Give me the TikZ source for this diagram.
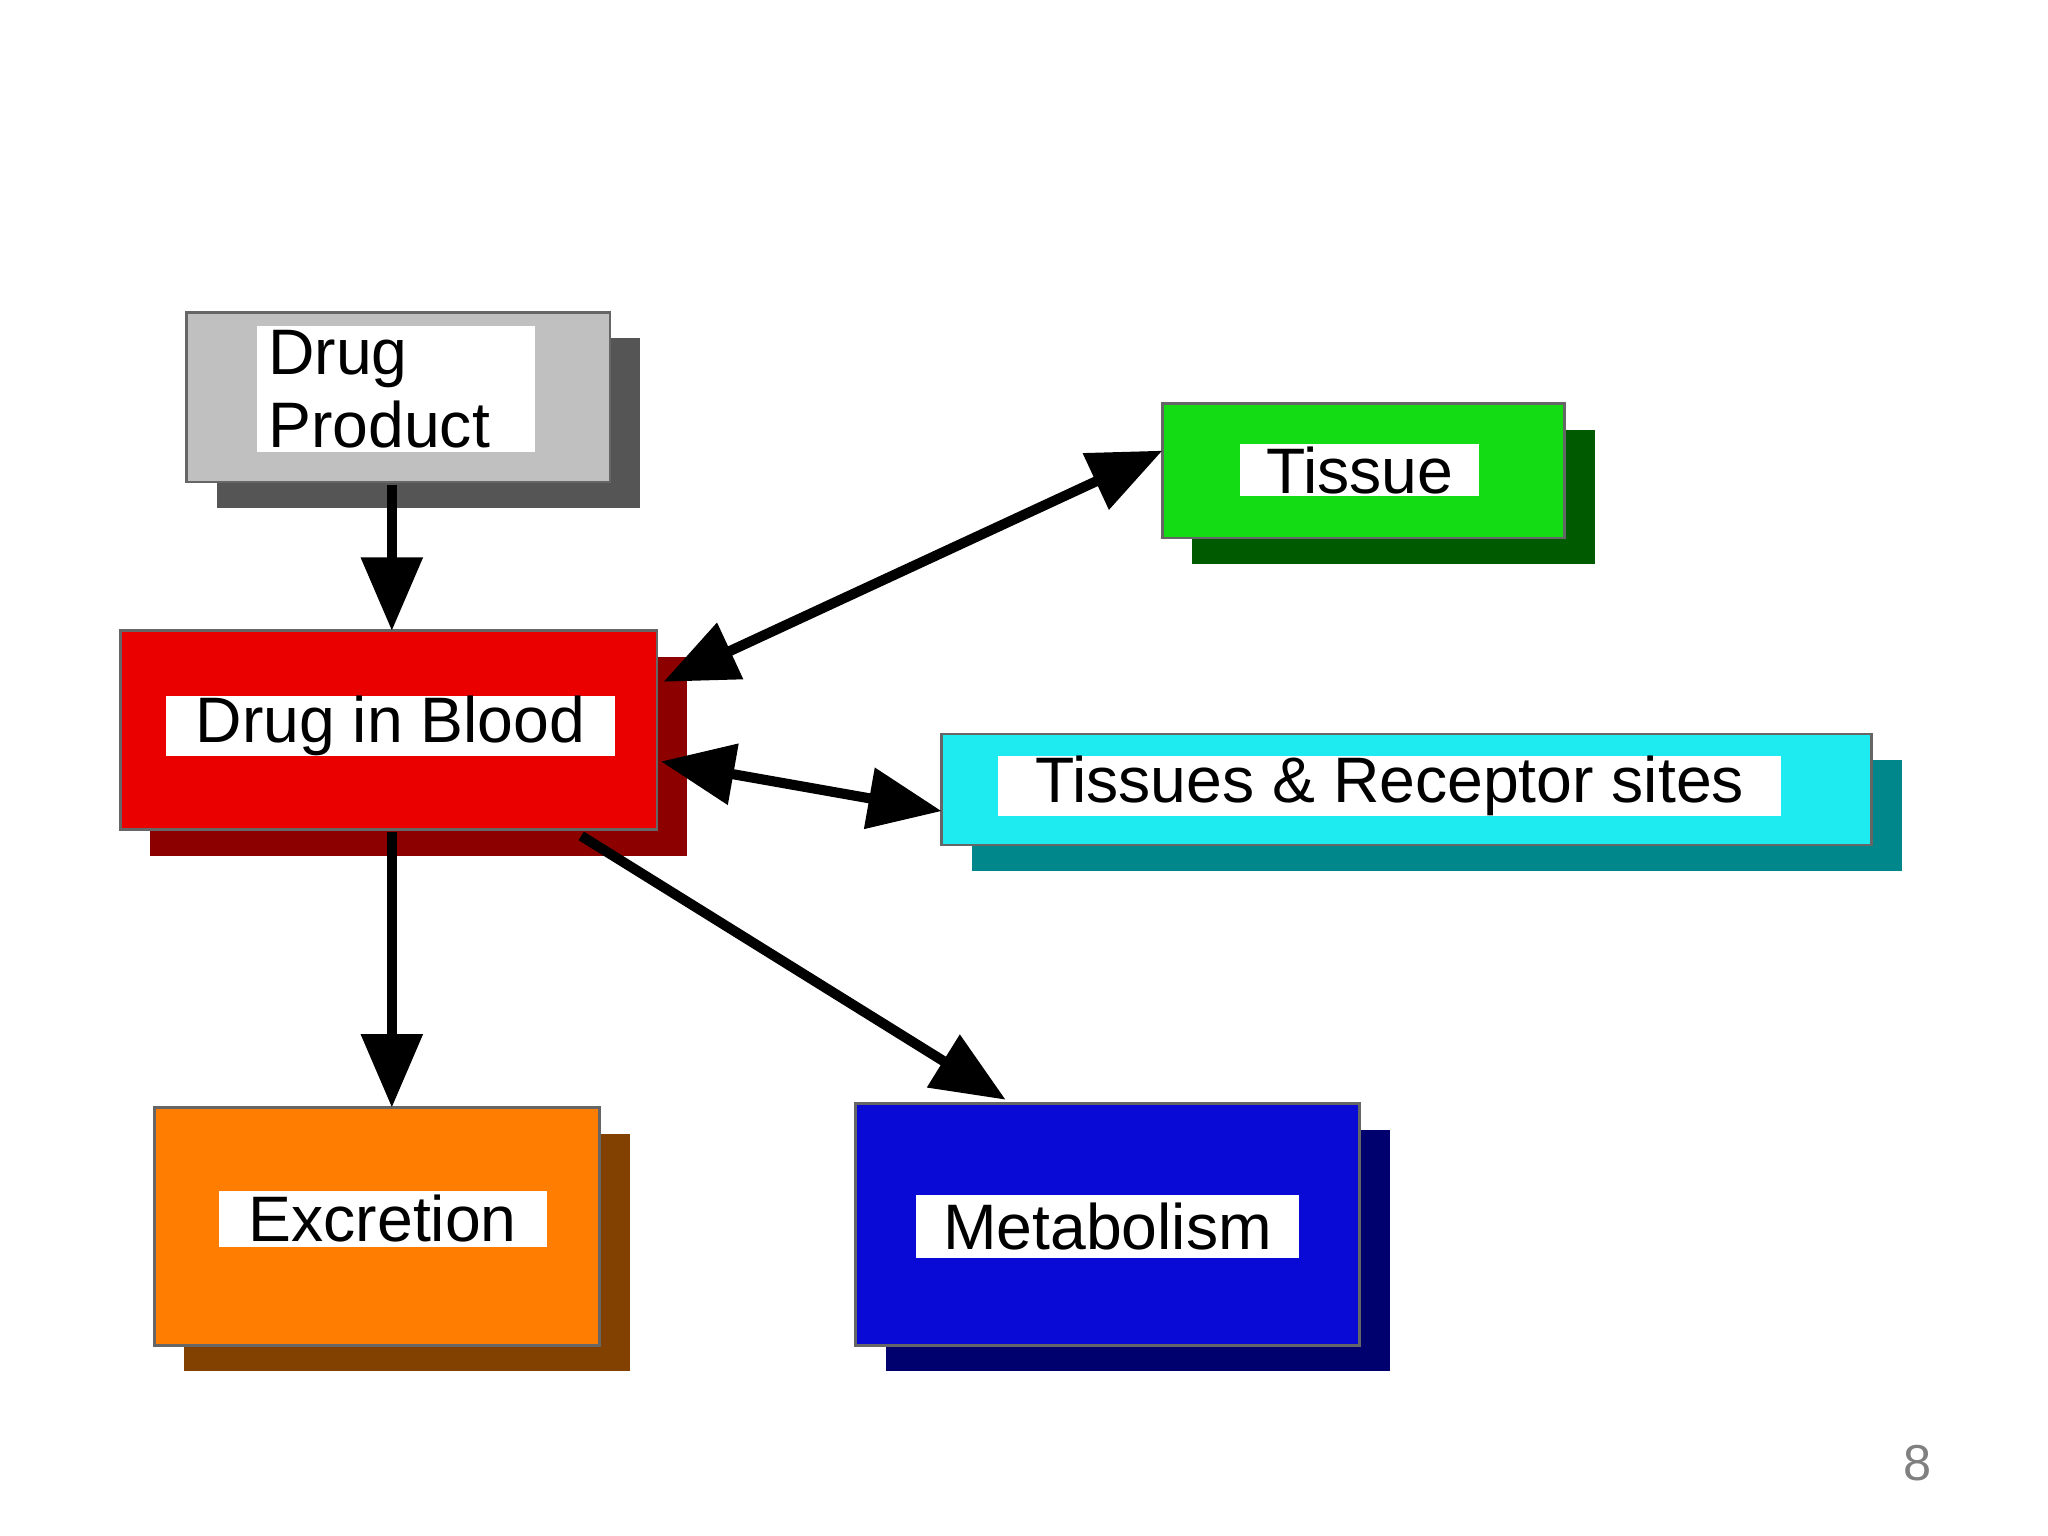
\documentclass[tikz,border=0pt]{standalone}
\usepackage{fontspec}
\setmainfont{Liberation Sans}
\usetikzlibrary{arrows.meta}
\begin{document}
\begin{tikzpicture}[x=0.01cm,y=-0.01cm,
 lab/.style={fill=white,inner sep=0pt,font=\fontsize{14pt}{16pt}\selectfont,align=left},
 arr/.style={line width=2.2pt,-{Triangle[length=16pt,width=13pt]}},
 darr/.style={line width=2.2pt,{Triangle[length=16pt,width=13pt]}-{Triangle[length=16pt,width=13pt]}}]
\useasboundingbox (0,0) rectangle (1568,1176);
\newcommand{\boxx}[7]{% x1 y1 x2 y2 fill shadow name
 \fill[#6] (#1+23,#2+20) rectangle (#3+23,#4+20);
 \filldraw[fill=#5,draw=black!60,line width=0.6pt] (#1,#2) rectangle (#3,#4);
 \coordinate (#7) at ({(#1+#3)/2},{(#2+#4)/2});}
\definecolor{gr}{RGB}{192,192,192}\definecolor{grs}{RGB}{85,85,85}
\definecolor{gn}{RGB}{20,220,20}\definecolor{gns}{RGB}{0,90,0}
\definecolor{rd}{RGB}{235,0,0}\definecolor{rds}{RGB}{140,0,0}
\definecolor{cy}{RGB}{30,235,240}\definecolor{cys}{RGB}{0,135,140}
\definecolor{og}{RGB}{255,125,0}\definecolor{ogs}{RGB}{130,65,0}
\definecolor{bl}{RGB}{10,10,215}\definecolor{bls}{RGB}{0,0,110}
\boxx{143}{239}{467}{369}{gr}{grs}{dp}
\boxx{890}{309}{1198}{412}{gn}{gns}{ti}
\boxx{92}{483}{503}{635}{rd}{rds}{db}
\boxx{721}{562}{1433}{647}{cy}{cys}{tr}
\boxx{118}{848}{459}{1030}{og}{ogs}{ex}
\boxx{655}{845}{1041}{1030}{bl}{bls}{me}
\node[lab,minimum width=2.13cm,minimum height=0.96cm,text width=1.95cm] (dpl) at (303,298) {Drug\\Product};
\node[lab,minimum width=1.83cm,minimum height=0.40cm] (til) at (1041,360) {Tissue};
\node[lab,minimum width=3.44cm,minimum height=0.43cm] (dbl) at (299,556) {Drug in Blood};
\node[lab,minimum width=5.99cm,minimum height=0.45cm] (trl) at (1064,602) {Tissues \& Receptor sites};
\node[lab,minimum width=2.51cm,minimum height=0.43cm] (exl) at (293,933) {Excretion};
\node[lab,minimum width=2.93cm,minimum height=0.48cm] (mel) at (848,939) {Metabolism};
\coordinate (a1) at (300,371); \coordinate (a2) at (300,483);
\coordinate (b1) at (890,345); \coordinate (b2) at (508,522);
\coordinate (c1) at (506,583); \coordinate (c2) at (721,621);
\coordinate (d1) at (300,637); \coordinate (d2) at (300,848);
\coordinate (e1) at (445,640); \coordinate (e2) at (770,842);
\draw[arr] (a1) -- (a2);
\draw[darr] (b2) -- (b1);
\draw[darr] (c1) -- (c2);
\draw[arr] (d1) -- (d2);
\draw[arr] (e1) -- (e2);
\node[text=black!50,font=\fontsize{11pt}{13pt}\selectfont] (pg) at (1468,1120) {8};
\end{tikzpicture}
\end{document}
